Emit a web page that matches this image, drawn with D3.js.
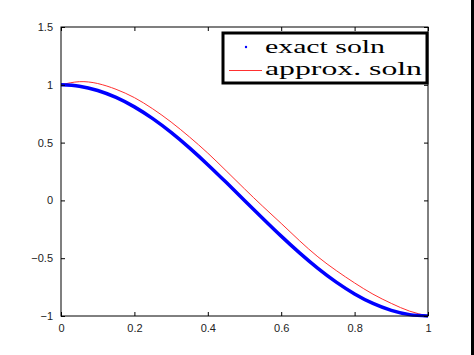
<!DOCTYPE html>
<html><head><meta charset="utf-8">
<script src="https://cdn.jsdelivr.net/npm/d3@7"></script>
<style>body{margin:0;background:#fff}svg{display:block}</style>
</head><body>
<script>
const xs = [0,0.05,0.1,0.15,0.2,0.25,0.3,0.35,0.4,0.45,0.5,0.55,0.6,0.65,0.7,0.75,0.8,0.85,0.9,0.95,1];
const exactVals = [1,0.988,0.951,0.891,0.809,0.707,0.588,0.454,0.309,0.156,0,-0.156,-0.309,-0.454,-0.588,-0.707,-0.809,-0.891,-0.951,-0.988,-1];
const approxVals = [1,1.027,1.011,0.961,0.889,0.792,0.678,0.549,0.409,0.256,0.10,-0.052,-0.199,-0.349,-0.488,-0.607,-0.714,-0.811,-0.891,-0.958,-1];
const xTicks = [0,0.2,0.4,0.6,0.8,1];
const yTicks = [-1,-0.5,0,0.5,1,1.5];
const legendLabels = ["exact soln","approx. soln"];

const W=474,H=355;
const L=61,R=428,T=27,B=316;
const svg=d3.select("body").append("svg").attr("width",W).attr("height",H);
const x=d3.scaleLinear().domain([0,1]).range([L,R]);
const y=d3.scaleLinear().domain([-1,1.5]).range([B,T]);
const fmt=d=>String(d).replace("-","\u2212");

// curves
const line=d3.line().x((d,i)=>x(xs[i])).y(d=>y(d)).curve(d3.curveNatural);
svg.append("path").datum(approxVals).attr("d",line).attr("fill","none").attr("stroke","#ff3030").attr("stroke-width",1);
svg.append("path").datum(exactVals).attr("d",line).attr("fill","none").attr("stroke","#0000ff").attr("stroke-width",3.5);

// axes
const g=svg.append("g");
const ax=[
 {a:d3.axisBottom(x).tickValues(xTicks).tickSizeInner(-4).tickSizeOuter(0).tickPadding(8).tickFormat(fmt),t:`translate(0,${B})`},
 {a:d3.axisTop(x).tickValues(xTicks).tickSizeInner(-4).tickSizeOuter(0).tickFormat(""),t:`translate(0,${T})`},
 {a:d3.axisLeft(y).tickValues(yTicks).tickSizeInner(-4).tickSizeOuter(0).tickPadding(8).tickFormat(fmt),t:`translate(${L},0)`},
 {a:d3.axisRight(y).tickValues(yTicks).tickSizeInner(-4).tickSizeOuter(0).tickFormat(""),t:`translate(${R},0)`}
];
ax.forEach(o=>{
  const gg=g.append("g").attr("transform",o.t).call(o.a);
  gg.select(".domain").remove();
  gg.selectAll("line").attr("stroke","#000");
  gg.selectAll("text").attr("fill","#222");
});
g.selectAll("text").attr("font-family","Liberation Sans, Arial, sans-serif").attr("font-size",11);
svg.append("rect").attr("x",L).attr("y",T).attr("width",R-L).attr("height",B-T).attr("fill","none").attr("stroke","#000").attr("stroke-width",1);

// legend
const lg=svg.append("g");
lg.append("rect").attr("x",223).attr("y",33).attr("width",204).attr("height",50).attr("fill","#fff").attr("stroke","#000").attr("stroke-width",3);
lg.append("circle").attr("cx",246).attr("cy",47).attr("r",1.2).attr("fill","#0000ff");
lg.append("line").attr("x1",229).attr("x2",262).attr("y1",70.5).attr("y2",70.5).attr("stroke","#ff3030").attr("stroke-width",1);
const tw=[120,157];
legendLabels.forEach((s,i)=>{
  lg.append("text").attr("x",265).attr("y",53+i*22).text(s)
    .attr("font-family","Liberation Serif, Times New Roman, serif").attr("font-size",19.5)
    .attr("textLength",tw[i]).attr("lengthAdjust","spacingAndGlyphs").attr("fill","#000");
});

// right edge bar
svg.append("rect").attr("x",471).attr("y",0).attr("width",3).attr("height",H).attr("fill","#000");
</script>
</body></html>
